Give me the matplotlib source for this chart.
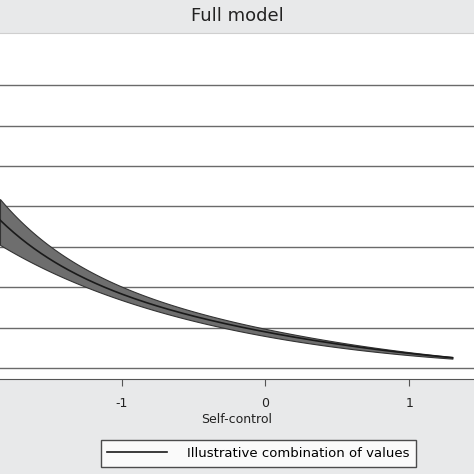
import matplotlib
matplotlib.use("Agg")
import matplotlib.pyplot as plt
import numpy as np

x = [-1.846, -1.5, -1.0, -0.45, 0.0, 0.52, 1.0, 1.3]
center = [3.44, 3.04, 1.78, 1.19, 0.87, 0.62, 0.37, 0.25]
upper = [3.96, 3.34, 1.98, 1.30, 0.94, 0.67, 0.40, 0.27]
lower = [2.85, 2.72, 1.63, 1.08, 0.76, 0.55, 0.32, 0.23]
xticks = [-1, 0, 1]
grid_levels = [0, 1, 2, 3, 4, 5, 6, 7]

bg = "#e8e9ea"
fig = plt.figure(figsize=(4.74, 4.74), dpi=100, facecolor=bg)
ax = fig.add_axes([0, 0.2004, 1, 0.7296])
ax.set_facecolor("white")

xs = np.linspace(x[0], x[-1], 200)
from numpy import interp
def smooth(vals):
    c = np.polyfit(x, np.log(vals), 3)
    return np.exp(np.polyval(c, xs))
ax.fill_between(xs, smooth(lower), smooth(upper), color="#6e6e6e", lw=0.8, edgecolor="#333333", zorder=2)
ax.plot(xs, smooth(center), color="#1a1a1a", lw=1.2, zorder=3)

for g in grid_levels:
    ax.axhline(g, color="#6a6a6a", lw=1.0, zorder=1)

ax.set_xlim(-1.846, 1.45)
ax.set_ylim(-0.27, 8.29)
ax.set_yticks([])
ax.set_xticks(xticks)
ax.set_xticklabels(["-1", "0", "1"])
ax.tick_params(axis="x", length=5, color="#555555", labelsize=9, pad=8, labelcolor="#222222")
for s in ["top", "right", "left"]:
    ax.spines[s].set_visible(False)
ax.spines["bottom"].set_color("#555555")
ax.set_xlabel("Self-control", fontsize=9, labelpad=2, color="#222222")

fig.text(0.5, 1 - 16 / 474, "Full model", ha="center", va="center", fontsize=13, color="#222222")
fig.add_artist(plt.Line2D([0, 1], [1 - 33 / 474] * 2, color="#cfcfcf", lw=0.8))

leg = fig.legend([plt.Line2D([], [], color="#1a1a1a", lw=1.2)], ["Illustrative combination of values"],
                 loc="center", bbox_to_anchor=(0.545, 1 - 453.5 / 474), fontsize=9.5,
                 frameon=True, fancybox=False, handlelength=4.5, borderpad=0.5, handletextpad=1.5)
leg.get_frame().set_edgecolor("#222222")
leg.get_frame().set_linewidth(1.0)
fig.savefig("out.png", dpi=100, facecolor=bg)
